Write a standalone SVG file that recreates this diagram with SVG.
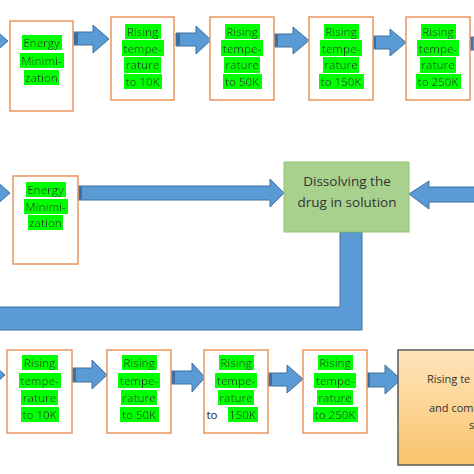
<svg xmlns="http://www.w3.org/2000/svg" width="474" height="474" viewBox="0 0 474 474">
<defs>
<filter id="hl" x="-0.03" y="0" width="1.06" height="1">
<feFlood flood-color="#00ff00"/>
<feComposite in="SourceGraphic" operator="over"/>
</filter>
<linearGradient id="og" x1="0" y1="0" x2="0" y2="1">
<stop offset="0" stop-color="#fee5bb"/>
<stop offset="1" stop-color="#f9c46c"/>
</linearGradient>
</defs>
<style>
.box{fill:#ffffff;stroke:#e9955c;stroke-width:1.5}
.hl{font-family:"Open Sans","Liberation Sans",sans-serif;font-size:11.5px;fill:#1a1a1a;text-anchor:middle;filter:url(#hl)}
.pl{font-family:"Open Sans","Liberation Sans",sans-serif;font-size:11.5px;fill:#1a1a1a;text-anchor:middle}
.arr{fill:#5b9bd5;stroke:#41719c;stroke-width:1}
.dk{fill:#3e6f9f}
.big{font-family:"Open Sans","Liberation Sans",sans-serif;font-size:13.5px;fill:#333;text-anchor:middle}
.ot{font-family:"Open Sans","Liberation Sans",sans-serif;font-size:11px;fill:#333}
</style>
<rect width="474" height="474" fill="#ffffff"/>

<g id="connectors">
<path class="arr" d="M-10,34 H-8 V27 L8,41 L-8,55 V48 H-10 Z"/>
<path class="arr" d="M74,32 H93 V25 L109,39 L93,53 V45 H74 Z"/><rect class="dk" x="74" y="32.5" width="4" height="12"/>
<path class="arr" d="M176,33 H196 V26 L211,40 L196,54 V46 H176 Z"/><rect class="dk" x="176" y="33.5" width="4" height="12"/>
<path class="arr" d="M274,34 H293 V27 L309,40.5 L293,54 V47 H274 Z"/><rect class="dk" x="274" y="34.5" width="4" height="12"/>
<path class="arr" d="M372,36 H390 V29 L406,42.5 L390,56 V49 H372 Z"/><rect class="dk" x="372" y="36.5" width="4" height="12"/>
<path class="arr" d="M469,37 H480 V50 H469 Z"/><rect class="dk" x="469" y="37.5" width="4" height="12"/>

<path class="arr" d="M-10,186 H-6 V179 L10,193 L-6,207 V200 H-10 Z"/>
<path class="arr" d="M78,186 H270 V179 L284,193 L270,207 V200 H78 Z"/><rect class="dk" x="78" y="186.5" width="4" height="13"/>
<path class="arr" d="M480,187 H429 V181 L409,194 L429,209 V202 H480 Z"/>
<path class="arr" d="M340,232 H362 V330 H-2 V307 H340 Z"/>

<path class="arr" d="M-14,368 H-11 V361 L5,375 L-11,389 V382 H-14 Z"/>
<path class="arr" d="M72,368 H92 V360 L107,375 L92,389 V382 H72 Z"/><rect class="dk" x="72" y="368.5" width="4" height="13"/>
<path class="arr" d="M171,371 H192 V363 L205,377.5 L192,392 V384 H171 Z"/><rect class="dk" x="171" y="371.5" width="4" height="12"/>
<path class="arr" d="M268,373 H287 V365 L303,379 L287,393 V386 H268 Z"/><rect class="dk" x="268" y="373.5" width="4" height="12"/>
<path class="arr" d="M366,373 H385 V365 L401,379.5 L385,394 V387 H366 Z"/><rect class="dk" x="366" y="373.5" width="4" height="13"/>
</g>

<g id="top-energy">
<rect class="box" x="10" y="21" width="63" height="90"/>
<text class="hl" x="41.5" y="47">Energy</text>
<text class="hl" x="41.5" y="65">Minimi-</text>
<text class="hl" x="41.5" y="82">zation</text>
</g>
<g id="top-10k">
<rect class="box" x="111" y="17" width="63" height="83"/>
<text class="hl" x="142.5" y="36">Rising</text>
<text class="hl" x="142.5" y="52.7">tempe-</text>
<text class="hl" x="142.5" y="69.4">rature</text>
<text class="hl" x="142.5" y="86">to 10K</text>
</g>
<g id="top-50k">
<rect class="box" x="210" y="17" width="64" height="83"/>
<text class="hl" x="242" y="36">Rising</text>
<text class="hl" x="242" y="52.7">tempe-</text>
<text class="hl" x="242" y="69.4">rature</text>
<text class="hl" x="242" y="86">to 50K</text>
</g>
<g id="top-150k">
<rect class="box" x="309" y="17" width="64" height="83"/>
<text class="hl" x="341" y="36">Rising</text>
<text class="hl" x="341" y="52.7">tempe-</text>
<text class="hl" x="341" y="69.4">rature</text>
<text class="hl" x="341" y="86">to 150K</text>
</g>
<g id="top-250k">
<rect class="box" x="406" y="17" width="64" height="83"/>
<text class="hl" x="438" y="36">Rising</text>
<text class="hl" x="438" y="52.7">tempe-</text>
<text class="hl" x="438" y="69.4">rature</text>
<text class="hl" x="438" y="86">to 250K</text>
</g>

<g id="mid-energy">
<rect class="box" x="13" y="176" width="65" height="88"/>
<text class="hl" x="45.5" y="194">Energy</text>
<text class="hl" x="45.5" y="211">Minimi-</text>
<text class="hl" x="45.5" y="227">zation</text>
</g>
<g id="dissolving">
<rect x="284" y="162" width="125" height="70" fill="#a9d18e" stroke="#93c172" stroke-width="1"/>
<text class="big" x="347" y="186">Dissolving the</text>
<text class="big" x="347" y="207">drug in solution</text>
</g>

<g id="bot-10k">
<rect class="box" x="7" y="350" width="65" height="83"/>
<text class="hl" x="39.5" y="367">Rising</text>
<text class="hl" x="39.5" y="385">tempe-</text>
<text class="hl" x="39.5" y="402">rature</text>
<text class="hl" x="39.5" y="419">to 10K</text>
</g>
<g id="bot-50k">
<rect class="box" x="107" y="350" width="64" height="83"/>
<text class="hl" x="139" y="367">Rising</text>
<text class="hl" x="139" y="385">tempe-</text>
<text class="hl" x="139" y="402">rature</text>
<text class="hl" x="139" y="419">to 50K</text>
</g>
<g id="bot-150k">
<rect class="box" x="204" y="350" width="64" height="83"/>
<text class="hl" x="236" y="367">Rising</text>
<text class="hl" x="236" y="385">tempe-</text>
<text class="hl" x="236" y="402">rature</text>
<text class="pl" x="212" y="419">to</text>
<text class="hl" x="242.5" y="419">150K</text>
</g>
<g id="bot-250k">
<rect class="box" x="303" y="350" width="64" height="83"/>
<text class="hl" x="335" y="367">Rising</text>
<text class="hl" x="335" y="385">tempe-</text>
<text class="hl" x="335" y="402">rature</text>
<text class="hl" x="335" y="419">to 250K</text>
</g>
<g id="final">
<rect x="398" y="350" width="90" height="115" fill="url(#og)" stroke="#5a5a5a" stroke-width="1.5"/>
<text class="ot" x="427" y="383">Rising te</text>
<text class="ot" x="429" y="412">and com</text>
<text class="ot" x="469" y="429">s</text>
</g>
</svg>
